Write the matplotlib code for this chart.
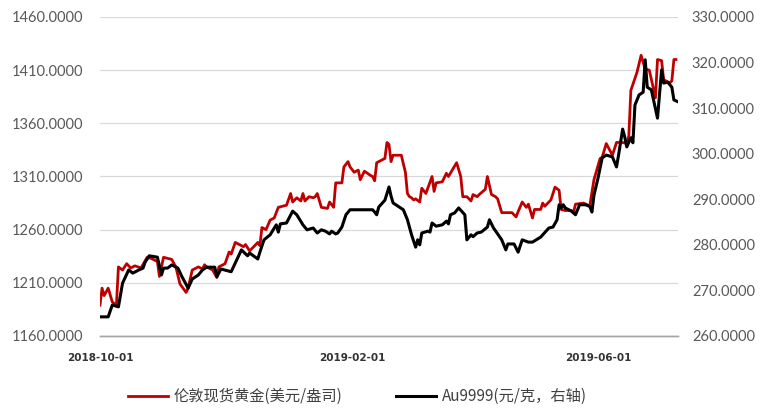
import matplotlib.pyplot as plt
import matplotlib.dates as mdates
from matplotlib.ticker import FormatStrFormatter
import pandas as pd

# 伦敦现货黄金 (USD/oz), left axis
gold_dates = [
    '2018-10-01', '2018-10-02', '2018-10-03', '2018-10-05', '2018-10-07', '2018-10-09', '2018-10-10',
    '2018-10-12', '2018-10-14', '2018-10-16', '2018-10-18', '2018-10-21', '2018-10-24', '2018-10-26',
    '2018-10-29', '2018-10-30', '2018-11-01', '2018-11-05', '2018-11-07', '2018-11-09', '2018-11-12',
    '2018-11-13', '2018-11-15', '2018-11-18', '2018-11-20', '2018-11-21', '2018-11-22', '2018-11-25',
    '2018-11-27', '2018-11-28', '2018-12-01', '2018-12-03', '2018-12-04', '2018-12-06', '2018-12-08',
    '2018-12-10', '2018-12-11', '2018-12-13', '2018-12-15', '2018-12-17', '2018-12-18', '2018-12-19',
    '2018-12-21', '2018-12-23', '2018-12-25', '2018-12-26', '2018-12-27', '2018-12-31', '2019-01-02',
    '2019-01-03', '2019-01-05', '2019-01-07', '2019-01-08', '2019-01-09', '2019-01-11', '2019-01-13',
    '2019-01-14', '2019-01-15', '2019-01-17', '2019-01-20', '2019-01-21', '2019-01-23', '2019-01-24',
    '2019-01-27', '2019-01-28', '2019-01-30', '2019-01-31', '2019-02-02', '2019-02-04', '2019-02-05',
    '2019-02-07', '2019-02-10', '2019-02-11', '2019-02-12', '2019-02-13', '2019-02-15', '2019-02-17',
    '2019-02-18', '2019-02-19', '2019-02-20', '2019-02-21', '2019-02-25', '2019-02-27', '2019-02-28',
    '2019-03-01', '2019-03-02', '2019-03-03', '2019-03-04', '2019-03-06', '2019-03-07', '2019-03-09',
    '2019-03-12', '2019-03-13', '2019-03-14', '2019-03-17', '2019-03-19', '2019-03-20', '2019-03-24',
    '2019-03-26', '2019-03-27', '2019-03-29', '2019-03-31', '2019-04-01', '2019-04-03', '2019-04-04',
    '2019-04-07', '2019-04-08', '2019-04-10', '2019-04-12', '2019-04-13', '2019-04-15', '2019-04-18',
    '2019-04-20', '2019-04-22', '2019-04-23', '2019-04-25', '2019-04-27', '2019-04-28', '2019-04-30',
    '2019-05-01', '2019-05-04', '2019-05-05', '2019-05-06', '2019-05-09', '2019-05-11', '2019-05-13',
    '2019-05-14', '2019-05-16', '2019-05-19', '2019-05-20', '2019-05-21', '2019-05-25', '2019-05-27',
    '2019-05-28', '2019-05-30', '2019-06-02', '2019-06-03', '2019-06-05', '2019-06-08', '2019-06-10',
    '2019-06-13', '2019-06-15', '2019-06-16', '2019-06-17', '2019-06-20', '2019-06-22', '2019-06-24',
    '2019-06-26', '2019-06-29', '2019-06-30', '2019-07-02', '2019-07-03', '2019-07-06', '2019-07-07',
    '2019-07-08', '2019-07-09',
]
gold_usd = [
    1189, 1205, 1198, 1205, 1192, 1189, 1225,
    1222, 1228, 1224, 1226, 1224, 1234, 1233,
    1230, 1216, 1234, 1232, 1225, 1209, 1201,
    1205, 1222, 1225, 1223, 1227, 1225, 1222,
    1215, 1225, 1228, 1239, 1237, 1248, 1246,
    1244, 1246, 1240, 1244, 1248, 1245, 1262,
    1260, 1269, 1271, 1276, 1281, 1283, 1294,
    1286, 1290, 1287, 1294, 1287, 1291, 1290,
    1291, 1294, 1281, 1280, 1286, 1281, 1304,
    1304, 1319, 1324, 1319, 1314, 1316, 1307,
    1315, 1311, 1310, 1306, 1323, 1325, 1327,
    1342, 1340, 1324, 1330, 1330, 1314, 1294,
    1291, 1290, 1288, 1289, 1286, 1299, 1294,
    1310, 1296, 1304, 1305, 1313, 1310, 1323,
    1310, 1291, 1291, 1287, 1293, 1291, 1293,
    1298, 1310, 1293, 1291, 1289, 1276, 1276,
    1276, 1272, 1277, 1286, 1281, 1284, 1271,
    1279, 1279, 1285, 1282, 1288, 1300, 1297,
    1279, 1278, 1278, 1276, 1284, 1285, 1283,
    1283, 1307, 1327, 1328, 1341, 1330, 1342,
    1342, 1341, 1348, 1391, 1408, 1424, 1411,
    1410, 1384, 1420, 1419, 1401, 1398, 1400,
    1420, 1420,
]

# Au9999 (CNY/g), right axis
au_dates = [
    '2018-10-01', '2018-10-05', '2018-10-07', '2018-10-10', '2018-10-12', '2018-10-15', '2018-10-17',
    '2018-10-20', '2018-10-22', '2018-10-23', '2018-10-25', '2018-10-29', '2018-10-31', '2018-11-01',
    '2018-11-03', '2018-11-05', '2018-11-08', '2018-11-10', '2018-11-13', '2018-11-15', '2018-11-18',
    '2018-11-20', '2018-11-22', '2018-11-26', '2018-11-27', '2018-11-29', '2018-12-04', '2018-12-06',
    '2018-12-09', '2018-12-12', '2018-12-13', '2018-12-17', '2018-12-18', '2018-12-20', '2018-12-23',
    '2018-12-26', '2018-12-27', '2018-12-28', '2018-12-31', '2019-01-03', '2019-01-05', '2019-01-08',
    '2019-01-10', '2019-01-13', '2019-01-15', '2019-01-17', '2019-01-19', '2019-01-21', '2019-01-22',
    '2019-01-24', '2019-01-25', '2019-01-27', '2019-01-29', '2019-01-31', '2019-02-03', '2019-02-11',
    '2019-02-12', '2019-02-13', '2019-02-14', '2019-02-17', '2019-02-19', '2019-02-20', '2019-02-21',
    '2019-02-24', '2019-02-26', '2019-02-28', '2019-03-02', '2019-03-04', '2019-03-05', '2019-03-06',
    '2019-03-07', '2019-03-10', '2019-03-11', '2019-03-12', '2019-03-14', '2019-03-17', '2019-03-19',
    '2019-03-20', '2019-03-21', '2019-03-23', '2019-03-25', '2019-03-28', '2019-03-29', '2019-03-31',
    '2019-04-01', '2019-04-03', '2019-04-05', '2019-04-08', '2019-04-09', '2019-04-11', '2019-04-13',
    '2019-04-15', '2019-04-17', '2019-04-18', '2019-04-21', '2019-04-23', '2019-04-25', '2019-04-28',
    '2019-04-30', '2019-05-04', '2019-05-05', '2019-05-08', '2019-05-10', '2019-05-12', '2019-05-13',
    '2019-05-14', '2019-05-15', '2019-05-16', '2019-05-19', '2019-05-21', '2019-05-23', '2019-05-26',
    '2019-05-28', '2019-05-29', '2019-05-30', '2019-06-01', '2019-06-03', '2019-06-05', '2019-06-08',
    '2019-06-10', '2019-06-11', '2019-06-13', '2019-06-14', '2019-06-15', '2019-06-17', '2019-06-18',
    '2019-06-19', '2019-06-21', '2019-06-23', '2019-06-24', '2019-06-25', '2019-06-27', '2019-06-30',
    '2019-07-02', '2019-07-03', '2019-07-05', '2019-07-07', '2019-07-08', '2019-07-10',
]
au_cny = [
    264.2, 264.2, 266.8, 266.4, 271.6, 274.5, 273.8,
    274.5, 274.9, 276.2, 277.6, 277.3, 273.4, 274.9,
    274.9, 275.6, 274.9, 273.0, 270.5, 272.5, 273.4,
    274.5, 275.1, 275.1, 273.0, 274.7, 274.1, 276.0,
    278.9, 277.6, 278.2, 276.9, 278.4, 281.1, 282.2,
    284.4, 282.8, 284.6, 284.8, 287.4, 286.6, 284.4,
    283.3, 283.7, 282.6, 283.3, 283.0, 282.4, 283.0,
    282.4, 282.6, 283.9, 286.6, 287.7, 287.7, 287.7,
    287.2, 286.6, 288.3, 289.8, 292.7, 290.7, 289.2,
    288.3, 287.7, 285.5, 282.2, 279.5, 281.1, 280.0,
    282.6, 283.0, 282.8, 284.8, 284.1, 284.4, 285.2,
    284.6, 286.6, 287.0, 288.1, 286.6, 281.1, 282.2,
    281.8, 282.6, 282.8, 283.9, 285.5, 283.7, 282.4,
    281.1, 278.9, 280.2, 280.2, 278.4, 281.1, 280.6,
    280.6, 281.7, 282.2, 283.7, 283.9, 285.5, 288.8,
    288.1, 288.8, 288.1, 287.4, 286.6, 288.8, 288.8,
    288.4, 287.2, 290.9, 294.7, 299.1, 299.7, 299.3,
    297.1, 299.7, 305.4, 303.7, 301.5, 303.5, 302.4,
    310.7, 312.9, 313.5, 320.6, 314.6, 314.0, 307.8,
    318.4, 315.5, 315.7, 314.6, 311.8, 311.4,
]

x_ticks = ['2018-10-01', '2019-02-01', '2019-06-01']
left_ticks = [1160, 1210, 1260, 1310, 1360, 1410, 1460]
right_ticks = [260, 270, 280, 290, 300, 310, 320, 330]
gold_label = '伦敦现货黄金(美元/盎司)'
au_label = 'Au9999(元/克，右轴)'

plt.rcParams['font.family'] = ['Lato', 'Noto Sans CJK SC', 'DejaVu Sans']

fig = plt.figure(figsize=(7.69, 4.13), dpi=100)
ax = fig.add_axes([100 / 769, 1 - 336 / 413, 578 / 769, 319 / 413])
ax2 = ax.twinx()

gd = pd.to_datetime(gold_dates)
ad = pd.to_datetime(au_dates)

l1, = ax.plot(gd, gold_usd, color='#c00000', lw=2.0, zorder=3)
l2, = ax2.plot(ad, au_cny, color='#000000', lw=2.2, zorder=3)

ax.set_xlim(pd.Timestamp('2018-10-01'), pd.Timestamp('2019-07-10'))
ax.set_ylim(left_ticks[0], left_ticks[-1])
ax2.set_ylim(right_ticks[0], right_ticks[-1])
ax.set_yticks(left_ticks)
ax2.set_yticks(right_ticks)
ax.yaxis.set_major_formatter(FormatStrFormatter('%.4f'))
ax2.yaxis.set_major_formatter(FormatStrFormatter('%.4f'))

ax.set_xticks(pd.to_datetime(x_ticks))
ax.xaxis.set_major_formatter(mdates.DateFormatter('%Y-%m-%d'))

ax.grid(axis='y', color='#d9d9d9', lw=0.9)
ax.set_axisbelow(True)
for a in (ax, ax2):
    for s in ('top', 'left', 'right'):
        a.spines[s].set_visible(False)
    a.spines['bottom'].set_color('#a6a6a6')
    a.spines['bottom'].set_linewidth(1.0)
    a.tick_params(length=0)

ax.tick_params(axis='y', labelsize=10.5, labelcolor='#595959', pad=12)
ax2.tick_params(axis='y', labelsize=10.5, labelcolor='#595959', pad=10)
ax.tick_params(axis='x', pad=12)
for t in ax.get_xticklabels():
    t.set_family('DejaVu Sans')
    t.set_fontsize(7.5)
    t.set_fontweight('bold')
    t.set_color('#333333')

fig.legend([l1, l2], [gold_label, au_label], loc='center', bbox_to_anchor=(0.465, 0.04),
           ncol=2, frameon=False, handlelength=2.6, columnspacing=3.5, handletextpad=0.4,
           prop={'family': ['Noto Sans CJK SC', 'DejaVu Sans'], 'size': 11})
for t in fig.legends[0].get_texts():
    t.set_color('#404040')

fig.savefig('out.png', dpi=100)
